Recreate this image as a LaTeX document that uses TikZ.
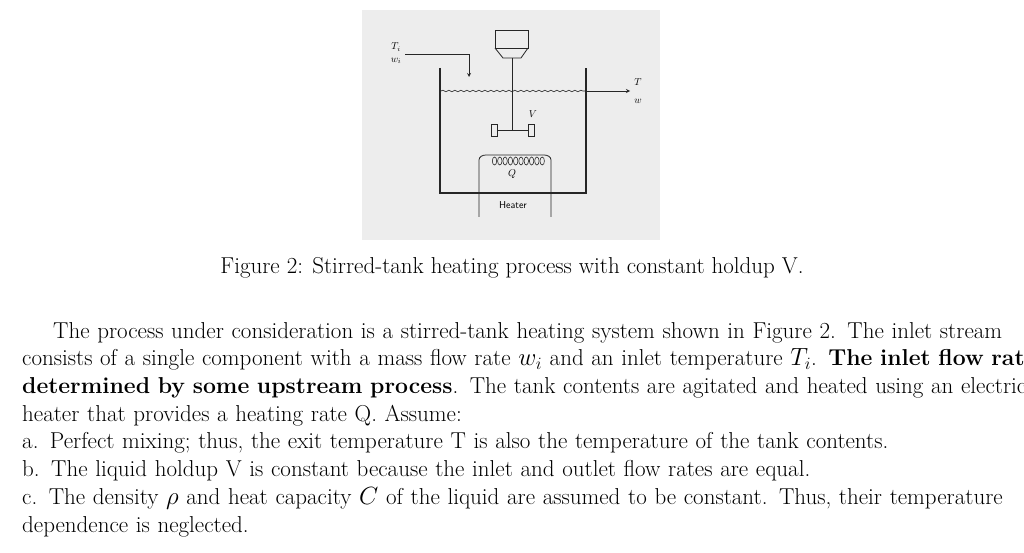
\documentclass[tikz,border=0pt]{standalone}
\usetikzlibrary{decorations.pathmorphing}
\begin{document}
\begin{tikzpicture}[x=1pt,y=-1pt,
  lbl/.style={inner sep=0pt,font=\fontsize{10}{11}\selectfont},
  thin line/.style={line width=0.8pt,black!85},
  wall/.style={line width=1.1pt,black!85}]
\useasboundingbox (0,0) rectangle (1024,553);
\fill[black!7] (362,10) rectangle (660,240);
% tank
\draw[wall] (440,68) -- (440,193) -- (586,193) -- (586,68);
% liquid level
\draw[thin line,line width=0.6pt,decorate,decoration={snake,amplitude=0.8pt,segment length=6pt}] (441,91) -- (585,91);
% outlet
\coordinate (out0) at (586,91);
\coordinate (out1) at (630,91);
\draw[thin line,-stealth] (out0) -- (out1);
\node[lbl] (T) at (638,82) {$T$};
\node[lbl] (w) at (638,101) {$w$};
% inlet
\node[lbl] (Ti) at (396,47) {$T_i$};
\node[lbl] (wi) at (396,61) {$w_i$};
\coordinate (in0) at (405,54);
\coordinate (in1) at (469,77);
\draw[thin line,-stealth] (in0) -| (in1);
% motor
\draw[thin line] (495,30) rectangle (528,48);
\draw[thin line] (495,48) -- (503,58) -- (521,58) -- (528,48);
\draw[thin line] (512,58) -- (512,130);
\draw[thin line] (497,130) -- (528,130);
\draw[thin line] (491,124) rectangle (497,136);
\draw[thin line] (528,124) rectangle (534,136);
\node[lbl] (V) at (533,114) {$V$};
% heater
\draw[thin line] (479,217) -- (479,160) to[out=90,in=180] (486,155) -- (544,155) to[out=0,in=90] (551,160) -- (551,217);
\foreach \i in {0,...,9} \draw[thin line,line width=0.6pt] (494.5+5.3*\i,161) ellipse (2.2pt and 4pt);
\node[lbl] (Q) at (512,174) {$Q$};
\node[lbl,font=\sffamily\fontsize{10}{11}\selectfont] (H) at (513,205) {Heater};
% caption
\node[inner sep=0pt,font=\fontsize{23}{27.7}\selectfont] (cap) at (512,268) {Figure 2: Stirred-tank heating process with constant holdup V.};
% paragraph
\node[anchor=north west,inner sep=0pt,text width=978pt,align=left,font=\fontsize{23}{27.7}\selectfont] (par) at (22,322) {%
\hbox to 978pt{\hspace*{31pt}The process under consideration is a stirred-tank heating system shown in Figure 2. The inlet stream}
\hbox to 978pt{consists of a single component with a mass flow rate $w_i$ and an inlet temperature $T_i$. \textbf{The inlet flow rate is}}
\hbox to 978pt{\textbf{determined by some upstream process}. The tank contents are agitated and heated using an electrical}
\hbox to 978pt{heater that provides a heating rate Q. Assume:\hfil}
\hbox to 978pt{a. Perfect mixing; thus, the exit temperature T is also the temperature of the tank contents.\hfil}
\hbox to 978pt{b. The liquid holdup V is constant because the inlet and outlet flow rates are equal.\hfil}
\hbox to 978pt{c. The density $\rho$ and heat capacity $C$ of the liquid are assumed to be constant. Thus, their temperature}
\hbox to 978pt{dependence is neglected.\hfil}};
\end{tikzpicture}
\end{document}
